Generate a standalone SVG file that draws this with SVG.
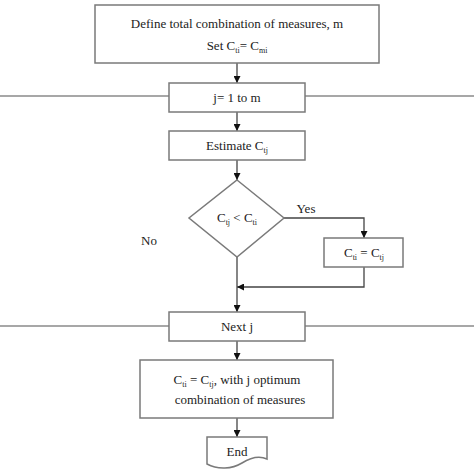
<svg xmlns="http://www.w3.org/2000/svg" width="474" height="474" viewBox="0 0 474 474">
<style>
.box{fill:#fff;stroke:#7a7a7a;stroke-width:1.5}
.conn{fill:none;stroke:#444;stroke-width:1.3}
.rail{fill:none;stroke:#8a8a8a;stroke-width:1.5}
text{font-family:"Liberation Serif","Times New Roman",serif;font-size:13px;fill:#222;text-anchor:middle}
.sub{font-size:8px}
</style>
<defs>
<marker id="arr" viewBox="0 0 10 10" refX="10" refY="5" markerWidth="7" markerHeight="7" markerUnits="userSpaceOnUse" orient="auto">
<path d="M0,0 L10,5 L0,10 z" fill="#111"/>
</marker>
</defs>
<rect width="474" height="474" fill="#fff"/>
<g id="rails">
<line class="rail" x1="0" y1="96" x2="169" y2="96"/>
<line class="rail" x1="305" y1="96" x2="474" y2="96"/>
<line class="rail" x1="0" y1="326" x2="169" y2="326"/>
<line class="rail" x1="305" y1="326" x2="474" y2="326"/>
</g>
<g id="connectors">
<line class="conn" x1="237" y1="63" x2="237" y2="83" marker-end="url(#arr)"/>
<line class="conn" x1="237" y1="112" x2="237" y2="131" marker-end="url(#arr)"/>
<line class="conn" x1="237" y1="160" x2="237" y2="180" marker-end="url(#arr)"/>
<polyline class="conn" points="284,218 364,218 364,238" marker-end="url(#arr)"/>
<polyline class="conn" points="364,267 364,287 237,287" marker-end="url(#arr)"/>
<line class="conn" x1="237" y1="257" x2="237" y2="312" marker-end="url(#arr)"/>
<line class="conn" x1="237" y1="341" x2="237" y2="360" marker-end="url(#arr)"/>
<line class="conn" x1="237" y1="418" x2="237" y2="437" marker-end="url(#arr)"/>
<text x="306" y="213">Yes</text>
<text x="149" y="245">No</text>
</g>
<g id="define">
<rect class="box" x="95" y="5" width="284" height="58"/>
<text x="237" y="28">Define total combination of measures, m</text>
<text x="237" y="50">Set C<tspan class="sub" dy="3">ti</tspan><tspan dy="-3">= C</tspan><tspan class="sub" dy="3">mi</tspan></text>
</g>
<g id="loop">
<rect class="box" x="169" y="83" width="136" height="29"/>
<text x="237" y="102">j= 1 to m</text>
</g>
<g id="estimate">
<rect class="box" x="169" y="131" width="136" height="29"/>
<text x="237" y="150">Estimate C<tspan class="sub" dy="3">tj</tspan></text>
</g>
<g id="decision">
<polygon class="box" points="237,180 284,218 237,257 189,218"/>
<text x="237" y="222">C<tspan class="sub" dy="3">tj</tspan><tspan dy="-3"> &lt;  C</tspan><tspan class="sub" dy="3">ti</tspan></text>
</g>
<g id="assign">
<rect class="box" x="324" y="238" width="79" height="29"/>
<text x="364" y="257">C<tspan class="sub" dy="3">ti</tspan><tspan dy="-3"> = C</tspan><tspan class="sub" dy="3">tj</tspan></text>
</g>
<g id="next">
<rect class="box" x="169" y="312" width="136" height="29"/>
<text x="237" y="331">Next j</text>
</g>
<g id="result">
<rect class="box" x="140" y="360" width="193" height="58"/>
<text x="237" y="384">C<tspan class="sub" dy="3">ti</tspan><tspan dy="-3"> = C</tspan><tspan class="sub" dy="3">tj</tspan><tspan dy="-3">, with j optimum</tspan></text>
<text x="240" y="404">combination of measures</text>
</g>
<g id="end">
<path class="box" d="M207,437 H267 V459 C258,455 250,458 242,463 C232,469 218,470 207,464 Z"/>
<text x="237" y="456">End</text>
</g>
</svg>
